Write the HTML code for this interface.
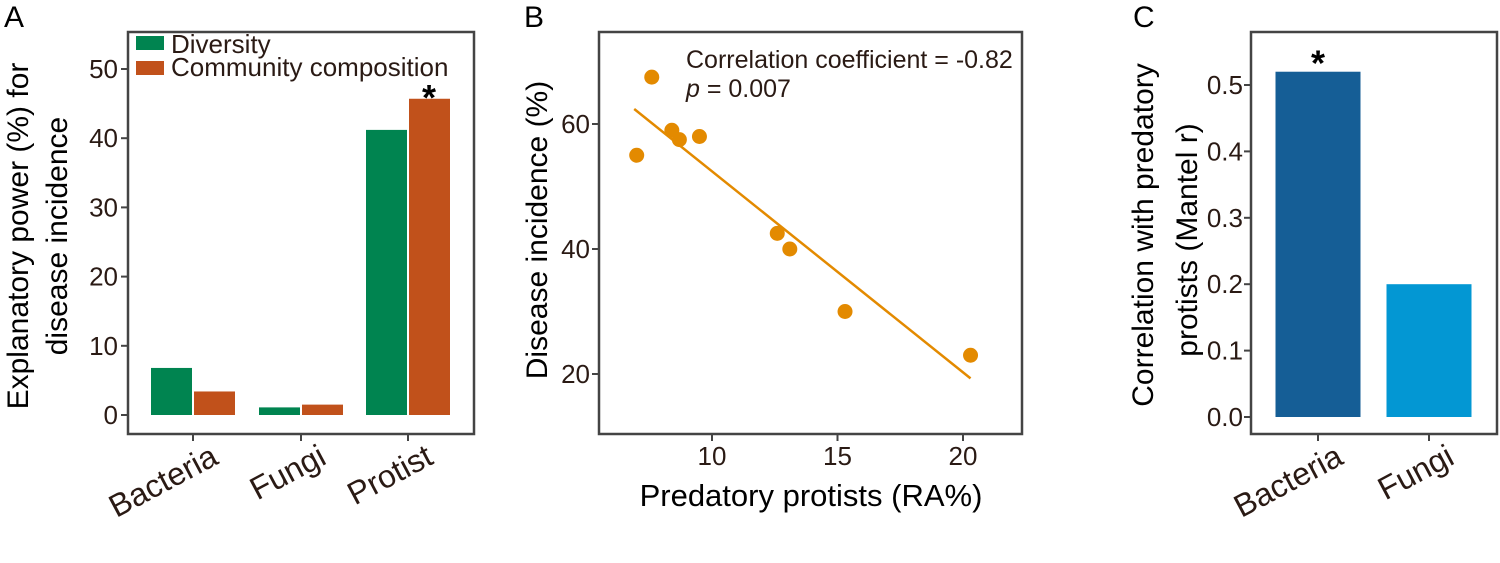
<!DOCTYPE html>
<html><head><meta charset="utf-8"><style>
body{margin:0;background:#fff;}
svg{display:block;font-family:"Liberation Sans",Arial,sans-serif;}
</style></head><body>
<svg id="fig" width="1500" height="563" viewBox="0 0 1500 563"></svg>
<script>
// Panel A data
const aCategories = ["Bacteria","Fungi","Protist"];
const aDiversity = [6.8, 1.1, 41.2];
const aComposition = [3.4, 1.5, 45.7];
const aTicks = [0,10,20,30,40,50];
// Panel B data
const bX = [7.0, 7.6, 8.4, 8.7, 9.5, 12.6, 13.1, 15.3, 20.3];
const bY = [55, 67.5, 59, 57.5, 58, 42.5, 40, 30, 23];
const bXTicks = [10,15,20];
const bYTicks = [20,40,60];
const bFitX = [6.9, 20.3];
const bFitY = [62.4, 19.3];
// Panel C data
const cCategories = ["Bacteria","Fungi"];
const cValues = [0.52, 0.20];
const cTicks = [0.0,0.1,0.2,0.3,0.4,0.5];

const NS="http://www.w3.org/2000/svg";
const svg=document.getElementById('fig');
function mk(tag,attrs,parent,text){const e=document.createElementNS(NS,tag);for(const k in attrs)e.setAttribute(k,attrs[k]);if(text!==undefined)e.textContent=text;(parent||svg).appendChild(e);return e;}
const TC="#2a1a14";
const TICKF=26, CATF=32, TITLEF=30;

// ---------- Panel A ----------
const aY=v=>415-v*6.92;
const aCenters=[193,301,408];
let g=mk('g',{});


let t=mk('text',{x:4,y:27,'font-size':30,fill:'#000'},g,'A');

aTicks.forEach(v=>{
  const l=mk('line',{x1:121,x2:128,y1:aY(v),y2:aY(v),stroke:'#444','stroke-width':2},g);
  
  const tx=mk('text',{x:118,y:aY(v)+9,'font-size':TICKF,'text-anchor':'end',fill:TC},g,String(v));
  
});
aCategories.forEach((c,i)=>{
  const cx=aCenters[i];
  const b1=mk('rect',{x:cx-42,y:aY(aDiversity[i]),width:41,height:aY(0)-aY(aDiversity[i]),fill:'#008450'},g);
  
  const b2=mk('rect',{x:cx+1,y:aY(aComposition[i]),width:41,height:aY(0)-aY(aComposition[i]),fill:'#c1511b'},g);
  
  const tk=mk('line',{x1:cx,x2:cx,y1:434,y2:441,stroke:'#444','stroke-width':2},g);
  
  const lb=mk('text',{x:cx+27,y:463,'font-size':CATF,'text-anchor':'end',fill:TC,transform:`rotate(-28 ${cx+27} 463)`},g,c);
  
});
t=mk('text',{x:aCenters[2]+21,y:aY(aComposition[2])+11,'font-size':36,'font-weight':'bold','text-anchor':'middle',fill:'#000'},g,'*');

let r=mk('rect',{x:128,y:32,width:346,height:402,fill:'none',stroke:'#444','stroke-width':2.5},g);

r=mk('rect',{x:136,y:36,width:28,height:14,fill:'#008450'},g);

t=mk('text',{x:171,y:53,'font-size':26,fill:TC},g,'Diversity');

r=mk('rect',{x:136,y:61,width:28,height:14,fill:'#c1511b'},g);

t=mk('text',{x:171,y:76,'font-size':26,fill:TC},g,'Community composition');

t=mk('text',{'font-size':TITLEF,'text-anchor':'middle',fill:'#000',transform:'translate(28,236) rotate(-90)'},g,'Explanatory power (%) for');

t=mk('text',{'font-size':TITLEF,'text-anchor':'middle',fill:'#000',transform:'translate(67,236) rotate(-90)'},g,'disease incidence');


// ---------- Panel B ----------
const bXs=v=>712+(v-10)*25.1;
const bYs=v=>374-(v-20)*6.25;
g=mk('g',{});


t=mk('text',{x:524,y:27,'font-size':30,fill:'#000'},g,'B');

bYTicks.forEach(v=>{
  const l=mk('line',{x1:592,x2:599,y1:bYs(v),y2:bYs(v),stroke:'#444','stroke-width':2},g);
  
  const tx=mk('text',{x:590,y:bYs(v)+9,'font-size':TICKF,'text-anchor':'end',fill:TC},g,String(v));
  
});
bXTicks.forEach(v=>{
  const l=mk('line',{x1:bXs(v),x2:bXs(v),y1:434,y2:441,stroke:'#444','stroke-width':2},g);
  
  const tx=mk('text',{x:bXs(v),y:465,'font-size':TICKF,'text-anchor':'middle',fill:TC},g,String(v));
  
});
const fit=mk('line',{x1:bXs(bFitX[0]),y1:bYs(bFitY[0]),x2:bXs(bFitX[1]),y2:bYs(bFitY[1]),stroke:'#e38a00','stroke-width':2.5},g);

bX.forEach((x,i)=>{
  const c=mk('circle',{cx:bXs(x),cy:bYs(bY[i]),r:7.5,fill:'#e38a00'},g);
  
});
r=mk('rect',{x:599,y:32,width:423,height:402,fill:'none',stroke:'#444','stroke-width':2.5},g);

t=mk('text',{x:686,y:68,'font-size':25,fill:TC},g,'Correlation coefficient = -0.82');

t=mk('text',{x:686,y:97,'font-size':25,fill:TC},g);
t.innerHTML='<tspan font-style="italic">p</tspan> = 0.007';

t=mk('text',{x:811,y:506,'font-size':31,'text-anchor':'middle',fill:'#000'},g,'Predatory protists (RA%)');

t=mk('text',{'font-size':TITLEF,'text-anchor':'middle',fill:'#000',transform:'translate(547,230) rotate(-90)'},g,'Disease incidence (%)');


// ---------- Panel C ----------
const cY=v=>417-v*664;
const cCenters=[1318,1429];
const cColors=['#155e96','#0397d3'];
g=mk('g',{});


t=mk('text',{x:1133,y:27,'font-size':30,fill:'#000'},g,'C');

cTicks.forEach(v=>{
  const l=mk('line',{x1:1244,x2:1251,y1:cY(v),y2:cY(v),stroke:'#444','stroke-width':2},g);
  
  const tx=mk('text',{x:1243,y:cY(v)+9,'font-size':TICKF,'text-anchor':'end',fill:TC},g,v.toFixed(1));
  
});
cCategories.forEach((c,i)=>{
  const cx=cCenters[i];
  const b=mk('rect',{x:cx-42.5,y:cY(cValues[i]),width:85,height:cY(0)-cY(cValues[i]),fill:cColors[i]},g);
  
  const tk=mk('line',{x1:cx,x2:cx,y1:434,y2:441,stroke:'#444','stroke-width':2},g);
  
  const lb=mk('text',{x:cx+27,y:463,'font-size':CATF,'text-anchor':'end',fill:TC,transform:`rotate(-28 ${cx+27} 463)`},g,c);
  
});
t=mk('text',{x:cCenters[0],y:cY(cValues[0])+4,'font-size':36,'font-weight':'bold','text-anchor':'middle',fill:'#000'},g,'*');

r=mk('rect',{x:1251,y:32,width:246,height:402,fill:'none',stroke:'#444','stroke-width':2.5},g);

t=mk('text',{'font-size':TITLEF,'text-anchor':'middle',fill:'#000',transform:'translate(1153,235) rotate(-90)'},g,'Correlation with predatory');

t=mk('text',{'font-size':TITLEF,'text-anchor':'middle',fill:'#000',transform:'translate(1197,240) rotate(-90)'},g,'protists (Mantel r)');

</script>
</body></html>
